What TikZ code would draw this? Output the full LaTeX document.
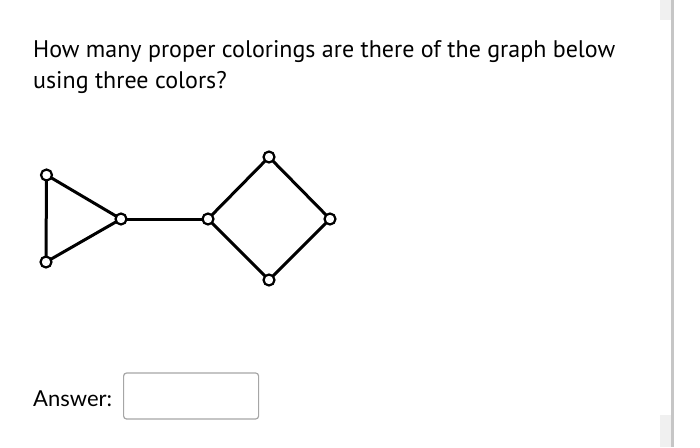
\documentclass[tikz,border=0pt]{standalone}
\usepackage{fontspec}
\setmainfont{PT Sans}
\newfontfamily\answerfont{Lato}
\usetikzlibrary{positioning}

\begin{document}
\begin{tikzpicture}[x=1pt,y=-1pt]
	\tikzstyle{vertex}=[circle, draw=black, line width=2.2pt, fill=white, minimum size=11pt, inner sep=0pt]
	\tikzstyle{connect}=[line width=3pt]
	\tikzstyle{qtext}=[anchor=base west, inner sep=0pt, font=\fontsize{24}{28}\selectfont]
	\useasboundingbox (0,0) rectangle (700,447);
	% page edge on the right
	\fill[gray!12] (660,0) rectangle (671,20);
	\fill[gray!12] (660,415) rectangle (671,447);
	\draw[gray!45, line width=3pt] (672.5,0) -- (672.5,447);
	% question
	\node[qtext] (line1) at (33,57) {How many proper colorings are there of the graph below};
	\node[qtext] (line2) at (33,88) {using three colors?};
	% graph
	\coordinate (t1) at (46.5,175);
	\coordinate (t2) at (46,262);
	\coordinate (t3) at (121,219);
	\coordinate (s1) at (208,219);
	\coordinate (s2) at (269,157);
	\coordinate (s3) at (330,219);
	\coordinate (s4) at (269,280);
	\path (t1) edge [connect] (t2)
	(t1) edge [connect] (t3)
	(t2) edge [connect] (t3)
	(t3) edge [connect] (s1)
	(s1) edge [connect] (s2)
	(s2) edge [connect] (s3)
	(s3) edge [connect] (s4)
	(s4) edge [connect] (s1);
	\foreach \v in {t1,t2,t3,s1,s2,s3,s4}
		\node[vertex] (\v v) at (\v) {};
	% answer field
	\node[anchor=base west, inner sep=0pt, font=\answerfont\fontsize{22}{26}\selectfont] (answer) at (33,406) {Answer:};
	\node[draw=gray!70, line width=1.2pt, rounded corners=3pt, minimum width=135pt, minimum height=46pt, anchor=west] (field) at (123,396) {};
\end{tikzpicture}
\end{document}
